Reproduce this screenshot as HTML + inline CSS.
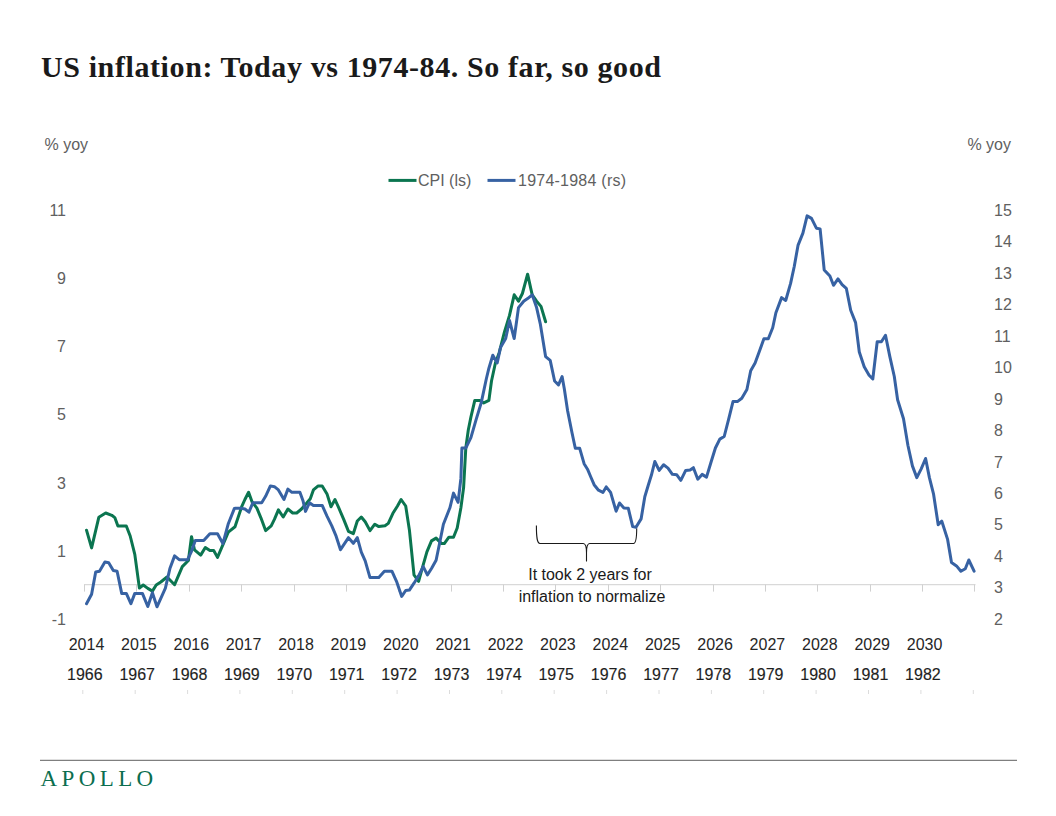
<!DOCTYPE html>
<html><head><meta charset="utf-8"><style>
html,body{margin:0;padding:0;background:#fff;}
body{width:1056px;height:816px;overflow:hidden;position:relative;}
svg{position:absolute;left:0;top:0;}
text{font-family:"Liberation Sans",sans-serif;}
</style></head><body>
<svg width="1056" height="816" viewBox="0 0 1056 816">
<text x="41" y="76.5" font-family="Liberation Serif" font-weight="bold" font-size="30" fill="#1a1a1a" style="font-family:'Liberation Serif',serif" textLength="620" lengthAdjust="spacing" id="title">US inflation: Today vs 1974-84. So far, so good</text>
<g font-size="16" fill="#606060">
<text x="44.5" y="149.5">% yoy</text>
<text x="1011" y="149.5" text-anchor="end">% yoy</text>
<text x="418" y="186">CPI (ls)</text>
<text x="518" y="186" textLength="108" lengthAdjust="spacing">1974-1984 (rs)</text>
</g>
<line x1="388.5" y1="180.4" x2="416.5" y2="180.4" stroke="#0b7550" stroke-width="3"/>
<line x1="487.5" y1="180.4" x2="515.5" y2="180.4" stroke="#3762a3" stroke-width="3"/>
<g font-size="16" fill="#606060" text-anchor="end"><text x="66" y="215.8">11</text><text x="66" y="284.0">9</text><text x="66" y="352.1">7</text><text x="66" y="420.3">5</text><text x="66" y="488.5">3</text><text x="66" y="556.7">1</text><text x="66" y="624.8">-1</text></g>
<g font-size="16" fill="#606060"><text x="994" y="215.8">15</text><text x="994" y="247.3">14</text><text x="994" y="278.7">13</text><text x="994" y="310.2">12</text><text x="994" y="341.6">11</text><text x="994" y="373.1">10</text><text x="994" y="404.6">9</text><text x="994" y="436.0">8</text><text x="994" y="467.5">7</text><text x="994" y="498.9">6</text><text x="994" y="530.4">5</text><text x="994" y="561.9">4</text><text x="994" y="593.3">3</text><text x="994" y="624.8">2</text></g>
<line x1="84" y1="584.6" x2="975.5" y2="584.6" stroke="#d9d9d9" stroke-width="1.2"/>
<g stroke="#d0d0d0" stroke-width="1"><line x1="84.5" y1="584.6" x2="84.5" y2="591.6"/><line x1="136.5" y1="584.6" x2="136.5" y2="591.6"/><line x1="189.5" y1="584.6" x2="189.5" y2="591.6"/><line x1="241.5" y1="584.6" x2="241.5" y2="591.6"/><line x1="294.5" y1="584.6" x2="294.5" y2="591.6"/><line x1="346.5" y1="584.6" x2="346.5" y2="591.6"/><line x1="398.5" y1="584.6" x2="398.5" y2="591.6"/><line x1="451.5" y1="584.6" x2="451.5" y2="591.6"/><line x1="503.5" y1="584.6" x2="503.5" y2="591.6"/><line x1="555.5" y1="584.6" x2="555.5" y2="591.6"/><line x1="608.5" y1="584.6" x2="608.5" y2="591.6"/><line x1="660.5" y1="584.6" x2="660.5" y2="591.6"/><line x1="713.5" y1="584.6" x2="713.5" y2="591.6"/><line x1="765.5" y1="584.6" x2="765.5" y2="591.6"/><line x1="817.5" y1="584.6" x2="817.5" y2="591.6"/><line x1="870.5" y1="584.6" x2="870.5" y2="591.6"/><line x1="922.5" y1="584.6" x2="922.5" y2="591.6"/><line x1="974.5" y1="584.6" x2="974.5" y2="591.6"/></g>
<g stroke="#dcdcdc" stroke-width="1"><line x1="82.8" y1="690" x2="82.8" y2="694"/><line x1="135.2" y1="690" x2="135.2" y2="694"/><line x1="187.6" y1="690" x2="187.6" y2="694"/><line x1="239.9" y1="690" x2="239.9" y2="694"/><line x1="292.3" y1="690" x2="292.3" y2="694"/><line x1="344.7" y1="690" x2="344.7" y2="694"/><line x1="397.1" y1="690" x2="397.1" y2="694"/><line x1="449.5" y1="690" x2="449.5" y2="694"/><line x1="501.8" y1="690" x2="501.8" y2="694"/><line x1="554.2" y1="690" x2="554.2" y2="694"/><line x1="606.6" y1="690" x2="606.6" y2="694"/><line x1="659.0" y1="690" x2="659.0" y2="694"/><line x1="711.4" y1="690" x2="711.4" y2="694"/><line x1="763.7" y1="690" x2="763.7" y2="694"/><line x1="816.1" y1="690" x2="816.1" y2="694"/><line x1="868.5" y1="690" x2="868.5" y2="694"/><line x1="920.9" y1="690" x2="920.9" y2="694"/><line x1="973.3" y1="690" x2="973.3" y2="694"/></g>
<g font-size="16" fill="#262626" text-anchor="middle"><text x="86.5" y="650">2014</text><text x="138.9" y="650">2015</text><text x="191.3" y="650">2016</text><text x="243.6" y="650">2017</text><text x="296.0" y="650">2018</text><text x="348.4" y="650">2019</text><text x="400.8" y="650">2020</text><text x="453.2" y="650">2021</text><text x="505.5" y="650">2022</text><text x="557.9" y="650">2023</text><text x="610.3" y="650">2024</text><text x="662.7" y="650">2025</text><text x="715.1" y="650">2026</text><text x="767.4" y="650">2027</text><text x="819.8" y="650">2028</text><text x="872.2" y="650">2029</text><text x="924.6" y="650">2030</text></g>
<g font-size="16" fill="#1f1f1f" stroke="#1f1f1f" stroke-width="0.15" text-anchor="middle"><text x="84.8" y="679.5">1966</text><text x="137.2" y="679.5">1967</text><text x="189.6" y="679.5">1968</text><text x="241.9" y="679.5">1969</text><text x="294.3" y="679.5">1970</text><text x="346.7" y="679.5">1971</text><text x="399.1" y="679.5">1972</text><text x="451.5" y="679.5">1973</text><text x="503.8" y="679.5">1974</text><text x="556.2" y="679.5">1975</text><text x="608.6" y="679.5">1976</text><text x="661.0" y="679.5">1977</text><text x="713.4" y="679.5">1978</text><text x="765.7" y="679.5">1979</text><text x="818.1" y="679.5">1980</text><text x="870.5" y="679.5">1981</text><text x="922.9" y="679.5">1982</text></g>
<g font-size="16" fill="#1a1a1a" text-anchor="middle">
<text x="590" y="580">It took 2 years for</text>
<text x="592" y="602">inflation to normalize</text>
</g>
<path d="M536.4,525.6 C536.4,537 537,543.5 540,543.5 L583.3,543.5 C585.5,543.5 586.5,547 586.5,553 L586.5,561.4 M586.5,553 C586.5,547 587.5,543.5 589.6,543.5 L633.5,543.5 C636,543.5 636.7,537 636.7,528.3" fill="none" stroke="#1a1a1a" stroke-width="1.1"/>
<polyline points="86.5,530.2 91.6,547.9 98.8,517.3 105.7,513.0 111.8,515.3 114.8,517.6 117.9,526.0 126.3,526.0 130.2,536.0 134.8,554.4 139.4,588.1 143.2,585.0 147.8,588.4 152.4,591.1 156.2,585.0 160.8,582.0 167.0,577.0 174.6,584.7 182.3,566.6 188.4,560.5 191.5,536.7 194.5,549.8 200.7,555.1 205.3,547.5 209.9,550.5 213.7,550.5 217.5,557.4 222.1,546.7 228.3,532.1 235.0,526.8 241.7,506.7 244.9,499.5 248.6,492.3 252.1,501.9 256.9,508.2 260.9,517.8 265.6,530.6 271.2,525.8 274.4,519.4 278.4,509.8 283.2,517.0 287.9,509.0 292.7,513.0 296.7,513.0 301.5,509.0 306.3,503.5 310.3,498.7 313.4,489.9 318.2,485.9 322.2,485.9 327.0,493.9 331.0,506.7 335.0,499.5 338.9,508.2 343.7,519.4 348.5,531.4 353.3,533.7 357.3,521.0 361.3,517.0 365.2,521.8 370.0,530.6 374.8,524.2 378.8,526.6 385.0,525.8 388.3,523.4 392.9,513.3 397.5,506.0 401.1,499.5 405.7,506.0 409.4,529.9 414.0,574.9 418.6,581.3 423.2,564.8 426.9,551.9 431.5,540.9 436.1,538.1 438.8,540.9 441.6,543.6 444.3,543.6 448.9,537.2 453.5,537.2 457.2,528.0 460.9,507.8 463.6,487.6 465.8,448.0 468.3,430.0 470.9,417.1 474.8,400.4 479.9,400.4 483.8,402.9 488.9,400.4 491.5,381.0 495.4,363.0 499.2,352.7 504.4,332.1 509.5,315.4 514.2,294.8 518.5,301.2 522.4,293.5 527.6,274.2 532.2,294.8 536.6,301.2 541.0,306.4 545.6,321.8" fill="none" stroke="#0b7550" stroke-width="3" stroke-linejoin="round" stroke-linecap="round"/>
<polyline points="86.5,603.7 91.6,594.2 95.7,572.0 99.5,571.2 104.9,562.0 108.7,562.8 113.3,570.5 117.1,571.2 121.7,593.4 126.3,593.4 130.9,603.7 134.8,593.4 142.4,593.4 147.8,606.5 152.4,592.7 157.0,606.8 165.4,588.1 170.0,568.2 174.6,555.9 179.2,559.7 187.6,559.7 191.5,551.3 195.3,540.6 203.7,540.6 209.9,533.7 217.5,533.7 222.9,543.6 228.3,523.7 234.4,508.4 235.4,508.2 240.9,508.2 244.9,509.0 248.9,512.2 252.9,502.7 257.7,502.7 261.7,502.7 265.6,496.3 270.4,485.9 274.4,486.7 278.4,489.9 284.0,499.5 287.9,489.1 291.9,492.3 299.9,492.3 303.1,501.1 305.5,511.4 309.5,502.7 313.4,505.4 322.2,505.4 327.0,516.2 331.8,525.8 335.8,535.3 340.5,549.7 348.5,537.7 353.3,543.3 357.3,537.7 361.3,552.1 365.2,560.8 370.0,577.6 378.8,577.6 384.4,571.2 391.9,571.2 396.5,581.3 401.7,596.4 405.7,590.5 409.4,590.1 414.0,583.2 418.6,575.8 423.2,566.6 427.4,574.9 431.5,568.5 436.1,560.2 439.7,542.7 443.4,524.3 449.9,507.8 453.5,493.1 458.1,502.3 460.9,478.4 461.9,448.0 465.8,448.0 470.9,437.7 476.1,419.7 481.2,402.9 486.4,378.5 488.9,368.2 492.8,355.3 497.2,363.0 500.5,347.6 505.7,338.5 509.5,320.5 514.2,338.5 518.5,307.6 523.7,301.2 527.6,298.6 532.2,294.8 536.6,307.6 540.4,324.4 545.6,356.6 550.2,360.4 554.6,381.0 558.5,384.9 562.1,376.6 564.3,388.7 567.6,410.8 572.0,432.8 575.3,448.3 579.7,448.3 584.1,463.7 587.5,469.2 590.8,477.0 594.1,484.7 598.5,490.2 602.9,492.4 606.2,486.9 610.6,492.4 616.1,511.2 619.5,503.0 623.9,507.9 628.3,508.3 632.7,526.6 636.0,527.3 641.1,518.9 644.8,496.8 648.1,485.8 651.5,474.8 654.8,461.5 659.2,470.4 663.6,464.8 668.0,468.1 672.4,474.3 676.8,474.8 680.8,480.3 685.7,470.4 690.1,469.9 693.4,467.7 697.8,479.2 702.1,474.4 706.5,477.1 711.0,462.3 715.4,448.0 719.8,439.1 724.2,436.5 728.6,419.3 733.0,401.6 737.4,401.6 741.8,398.3 746.9,389.5 750.7,370.7 755.1,363.0 759.5,350.9 763.9,338.8 768.3,338.8 772.7,327.7 775.9,312.8 781.6,297.6 785.7,300.5 790.6,283.4 794.3,266.2 798.0,245.4 802.9,233.1 807.1,215.9 811.5,218.4 816.4,228.2 820.1,228.9 824.2,269.9 829.9,276.0 833.5,285.3 838.0,278.9 842.1,284.6 846.3,288.3 850.7,310.3 855.6,322.6 859.3,352.0 864.2,366.7 869.1,375.3 872.8,379.0 877.2,341.7 881.4,341.7 885.5,335.3 889.9,356.9 894.3,376.5 897.6,399.7 903.5,418.8 907.9,445.3 912.4,465.9 916.8,477.6 921.2,468.8 925.6,458.5 929.4,477.6 933.5,493.8 938.2,524.7 941.8,521.2 947.6,539.4 951.5,562.4 956.5,565.9 960.9,571.2 965.3,568.8 968.8,560.0 974.1,571.2" fill="none" stroke="#3762a3" stroke-width="3" stroke-linejoin="round" stroke-linecap="round"/>
<line x1="40" y1="760.3" x2="1017" y2="760.3" stroke="#7f7f7f" stroke-width="1.2"/>
<text x="40.5" y="785.6" font-size="23" fill="#0b6e4f" letter-spacing="4.4" style="font-family:'Liberation Serif',serif">APOLLO</text>
</svg>
</body></html>
